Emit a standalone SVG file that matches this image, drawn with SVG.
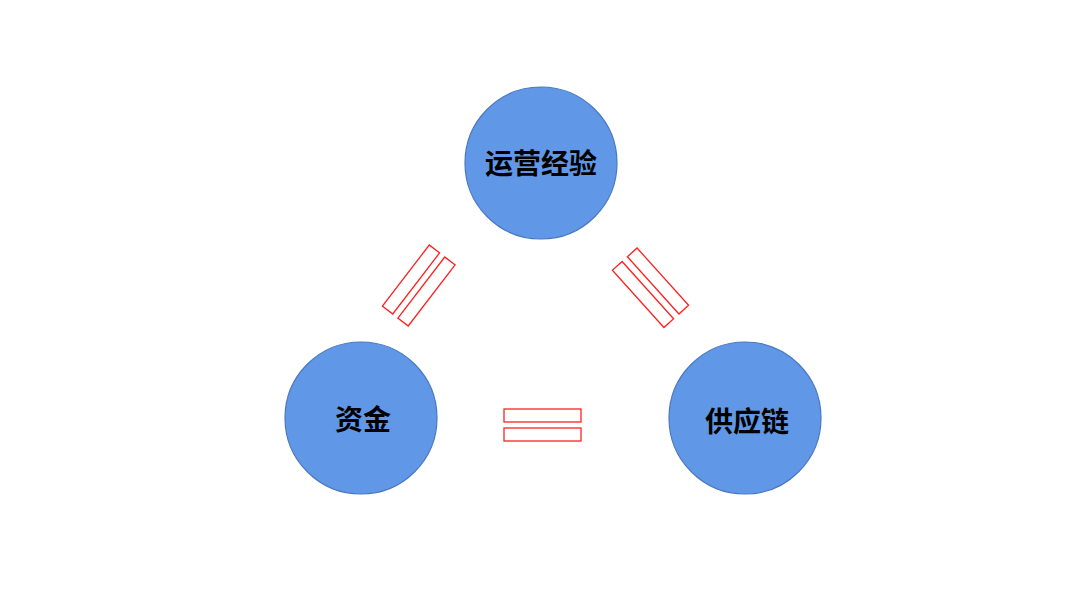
<svg xmlns="http://www.w3.org/2000/svg" width="1080" height="608" viewBox="0 0 1080 608">
<style>
.c{fill:#6097E6;stroke:#4A78C0;stroke-width:1.2}
.t{font-family:"Noto Sans CJK SC",sans-serif;font-size:28px;font-weight:bold;fill:#000;text-anchor:middle;dominant-baseline:central}
.r{fill:#fff;stroke:#FF2020;stroke-width:1.3}
</style>
<rect width="1080" height="608" fill="#fff"/>
<g id="n1"><circle class="c" cx="541" cy="163" r="76"/><text class="t" x="541" y="162">运营经验</text></g>
<g id="n2"><circle class="c" cx="361" cy="418" r="76"/><text class="t" x="363" y="418">资金</text></g>
<g id="n3"><circle class="c" cx="745" cy="418" r="76"/><text class="t" x="747" y="420">供应链</text></g>
<g id="connectors">
<rect class="r" x="-38.5" y="-6.5" width="77" height="13" transform="translate(411,279.5) rotate(-52.5)"/>
<rect class="r" x="-38.5" y="-6.5" width="77" height="13" transform="translate(426.5,291.5) rotate(-52.5)"/>
<rect class="r" x="-38.5" y="-6.5" width="77" height="13" transform="translate(658,281) rotate(48)"/>
<rect class="r" x="-38.5" y="-6.5" width="77" height="13" transform="translate(643,294.5) rotate(48)"/>
<rect class="r" x="504" y="409" width="77" height="13"/>
<rect class="r" x="504" y="428" width="77" height="13"/>
</g>
</svg>
